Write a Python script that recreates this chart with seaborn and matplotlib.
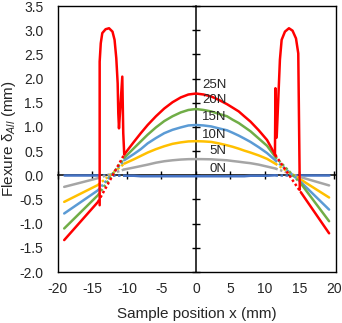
import numpy as np
import pandas as pd
import seaborn as sns
import matplotlib.pyplot as plt

# Data
x_pos = [-19.1, -14.2, -10.4, -9.0, -8.0, -7.0, -5.8, -4.6, -3.4, -2.2, -1.1, 0.0,
         1.1, 2.2, 3.3, 4.5, 5.3, 6.2, 7.0, 7.9, 9.1, 10.3, 11.5, 15.2, 19.3]

loads = ['0N', '5N', '10N', '15N', '20N', '25N']
flex_0n = [0.0, 0.0, -0.01, -0.01, -0.02, -0.02, -0.02, -0.02, -0.02, -0.02, -0.02, -0.02,
           -0.02, -0.02, -0.02, -0.02, -0.02, -0.02, -0.02, -0.01, -0.01, -0.01, 0.0, 0.0, 0.0]
flex_5n = [-0.24, -0.06, 0.12, 0.16, 0.19, 0.22, 0.26, 0.29, 0.31, 0.325, 0.333, 0.335,
           0.333, 0.33, 0.32, 0.31, 0.295, 0.28, 0.265, 0.25, 0.22, 0.18, 0.14, -0.04, -0.21]
flex_10n = [-0.55, -0.20, 0.24, 0.33, 0.40, 0.47, 0.54, 0.60, 0.65, 0.68, 0.70, 0.705,
            0.70, 0.69, 0.66, 0.62, 0.59, 0.55, 0.51, 0.47, 0.41, 0.34, 0.24, -0.09, -0.46]
flex_15n = [-0.79, -0.31, 0.31, 0.44, 0.54, 0.66, 0.77, 0.87, 0.94, 0.99, 1.03, 1.04,
            1.03, 1.01, 0.97, 0.93, 0.88, 0.82, 0.76, 0.69, 0.58, 0.46, 0.31, -0.14, -0.71]
flex_20n = [-1.10, -0.41, 0.36, 0.56, 0.70, 0.84, 0.99, 1.12, 1.22, 1.30, 1.35, 1.37,
            1.35, 1.32, 1.27, 1.22, 1.15, 1.08, 1.00, 0.91, 0.76, 0.61, 0.38, -0.17, -0.95]
flex_25n = [-1.34, -0.55, 0.43, 0.69, 0.87, 1.04, 1.22, 1.38, 1.51, 1.61, 1.67, 1.69,
            1.67, 1.63, 1.56, 1.47, 1.40, 1.32, 1.22, 1.11, 0.93, 0.73, 0.42, -0.35, -1.20]

# glitches in the 25N trace near both supports
spike_left_x = [-13.96, -13.96, -13.8, -13.58, -13.1, -12.6, -12.1, -11.8, -11.55, -11.35,
                -11.26, -11.16, -10.68, -10.54, -10.4]
spike_left_y = [-0.62, 2.35, 2.73, 2.94, 3.02, 3.04, 2.97, 2.80, 2.42, 1.90,
                1.28, 0.97, 2.04, 0.87, 0.43]
spike_right_x = [11.45, 11.52, 11.7, 12.17, 12.42, 12.9, 13.48, 14.0, 14.5, 14.83, 15.05]
spike_right_y = [0.42, 1.80, 0.78, 2.39, 2.80, 2.97, 3.04, 2.99, 2.83, 2.52, -0.30]

label_y = [0.14, 0.50, 0.84, 1.20, 1.56, 1.87]

colors = ['#4472C4', '#A5A5A5', '#FFC000', '#5B9BD5', '#70AD47', '#FF0000']

# solid outside the supports and in the span, dotted across the supports
n = len(x_pos)
segments = [(0, 1, 'solid'), (1, 2, 'dotted'), (2, n - 3, 'solid'),
            (n - 3, n - 2, 'dotted'), (n - 2, n - 1, 'solid')]

rows = []
unit = 0
for load, ys in zip(loads, [flex_0n, flex_5n, flex_10n, flex_15n, flex_20n, flex_25n]):
    for i0, i1, kind in segments:
        for i in range(i0, i1 + 1):
            rows.append((x_pos[i], ys[i], load, kind, unit))
        unit += 1
for sx, sy in [(spike_left_x, spike_left_y), (spike_right_x, spike_right_y)]:
    for x, y in zip(sx, sy):
        rows.append((x, y, '25N', 'solid', unit))
    unit += 1
df = pd.DataFrame(rows, columns=['x', 'y', 'load', 'kind', 'unit'])

sns.set_style('white')
plt.rcParams['font.family'] = ['Liberation Sans', 'DejaVu Sans']
plt.rcParams['mathtext.fontset'] = 'custom'
plt.rcParams['mathtext.rm'] = 'Liberation Sans'
plt.rcParams['mathtext.it'] = 'Liberation Sans:italic'

fig = plt.figure(figsize=(3.42, 3.23), dpi=100)
rect = [58 / 342, 1 - 272 / 323, 278 / 342, 266 / 323]
xlim = (-20, 20.3)
ylim = (-2, 3.5)

xticks = np.arange(-20, 21, 5)
yticks = np.arange(-2.0, 3.51, 0.5)

# axes crossing at the origin (Excel style)
axc = fig.add_axes(rect, zorder=0)
axc.set_xlim(*xlim)
axc.set_ylim(*ylim)
for side in ['top', 'right']:
    axc.spines[side].set_visible(False)
for side in ['left', 'bottom']:
    axc.spines[side].set_position(('data', 0))
    axc.spines[side].set_linewidth(1.1)
    axc.spines[side].set_color('black')
axc.set_xticks(xticks)
axc.set_yticks(yticks)
axc.tick_params(direction='inout', length=6, width=1, color='black',
                labelbottom=False, labelleft=False, bottom=True, left=True)

ax = fig.add_axes(rect, zorder=1)
ax.patch.set_alpha(0)

sns.lineplot(data=df, x='x', y='y', hue='load', style='kind', units='unit',
             estimator=None, sort=False, palette=colors, hue_order=loads,
             dashes={'solid': '', 'dotted': (1, 1)}, linewidth=1.8,
             legend=False, ax=ax)

for txt, ly in zip(loads, label_y):
    ax.text(4.4, ly, txt, ha='right', va='center', fontsize=9.5)

ax.set_xlim(*xlim)
ax.set_ylim(*ylim)
ax.set_xticks(xticks)
ax.set_yticks(yticks)
ax.set_xticklabels([f'{v:d}' for v in xticks])
ax.set_yticklabels([f'{v:.1f}' for v in yticks])
ax.tick_params(length=0, labelsize=10)
ax.tick_params(axis='y', pad=10.5)
ax.tick_params(axis='x', pad=7)
for side in ax.spines:
    ax.spines[side].set_visible(True)
    ax.spines[side].set_color('black')
    ax.spines[side].set_linewidth(1.0)

ax.set_xlabel('Sample position x (mm)', fontsize=11, labelpad=8)
ax.set_ylabel(r'Flexure δ$_{All}$ (mm)', fontsize=11, labelpad=1)

fig.savefig('out.png', dpi=100, facecolor='white')
